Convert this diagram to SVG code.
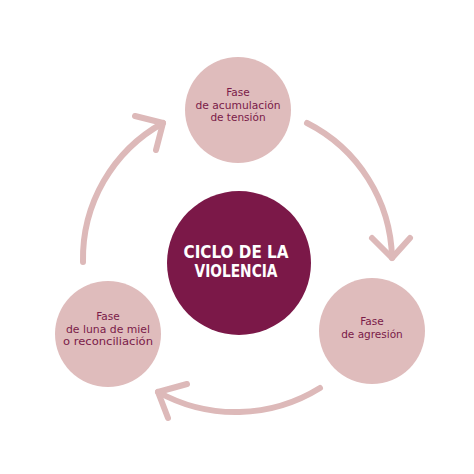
<svg xmlns="http://www.w3.org/2000/svg" width="474" height="474" viewBox="0 0 474 474">
<style>
.arc{fill:none;stroke:#ddb9b9;stroke-width:6;stroke-linecap:round;stroke-linejoin:round}
.phase{fill:#dfbcbc}
.pt{font-family:"DejaVu Sans","Liberation Sans",sans-serif;font-size:10.5px;fill:#7a1a48;text-anchor:middle}
.ct{font-family:"DejaVu Sans","Liberation Sans",sans-serif;font-size:17px;font-weight:600;fill:#ffffff;text-anchor:middle}
</style>
<rect width="474" height="474" fill="#ffffff"/>
<g id="connectors">
<path class="arc" d="M83,262 A155,155 0 0 1 163,123"/>
<path class="arc" d="M135,116 L163,123 L156,150"/>
<path class="arc" d="M307,123 A155,155 0 0 1 392,258"/>
<path class="arc" d="M372,238 L392,258 L410,238"/>
<path class="arc" d="M320,388 A160,160 0 0 1 158,392"/>
<path class="arc" d="M187,384 L158,392 L168,418"/>
</g>
<g id="center">
<circle cx="239" cy="263" r="72" fill="#7b1848"/>
<text class="ct" x="236" y="258" textLength="105" lengthAdjust="spacingAndGlyphs">CICLO DE LA</text>
<text class="ct" x="236" y="277" textLength="83" lengthAdjust="spacingAndGlyphs">VIOLENCIA</text>
</g>
<g id="acumulacion">
<circle class="phase" cx="238" cy="110" r="53"/>
<text class="pt" x="238" y="96">Fase</text>
<text class="pt" x="238" y="108.5" textLength="85" lengthAdjust="spacingAndGlyphs">de acumulación</text>
<text class="pt" x="238" y="121">de tensión</text>
</g>
<g id="agresion">
<circle class="phase" cx="372" cy="331" r="53"/>
<text class="pt" x="372" y="325">Fase</text>
<text class="pt" x="372" y="337.5">de agresión</text>
</g>
<g id="reconciliacion">
<circle class="phase" cx="108" cy="334" r="53"/>
<text class="pt" x="108" y="320">Fase</text>
<text class="pt" x="108" y="332.5" textLength="84" lengthAdjust="spacingAndGlyphs">de luna de miel</text>
<text class="pt" x="108" y="345" textLength="90" lengthAdjust="spacingAndGlyphs">o reconciliación</text>
</g>
</svg>
